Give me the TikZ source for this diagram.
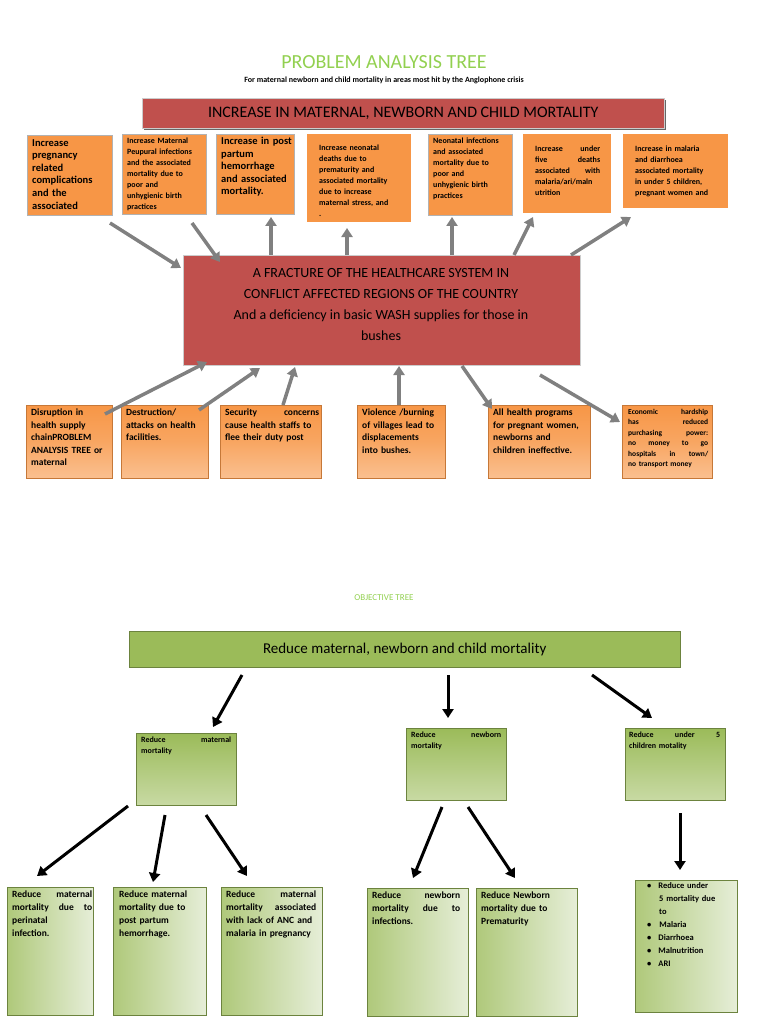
\documentclass[tikz,border=0pt]{standalone}
\usepackage{fontspec}
\setmainfont{Carlito}
\usetikzlibrary{arrows.meta}
\definecolor{org}{HTML}{F79646}
\definecolor{orgl}{HTML}{FAC090}
\definecolor{redb}{HTML}{C0504D}
\definecolor{grn}{HTML}{9BBB59}
\definecolor{grnl}{HTML}{E6EED8}
\definecolor{ttl}{HTML}{92D050}
\definecolor{arr}{HTML}{808080}
\begin{document}
\begin{tikzpicture}[x=1pt,y=-1pt,
  ob/.style={draw=white!70!black,fill=org,inner sep=0pt},
  obg/.style={draw=org!80!black,top color=org,bottom color=orgl,middle color=org!85!white,inner sep=0pt},
  gb/.style={draw=grn!70!black,top color=grn,bottom color=grn!55!white,inner sep=0pt},
  gl/.style={draw=grn!70!black,left color=grn!80!white,right color=grnl,inner sep=0pt},
  tx/.style={anchor=north west,align=left,font=\bfseries\fontsize{10.5}{12.6}\selectfont,inner sep=0pt},
  ts/.style={anchor=north west,align=left,font=\bfseries\fontsize{8}{11}\selectfont,inner sep=0pt},
  tg/.style={anchor=north west,align=left,font=\bfseries\fontsize{9.5}{13}\selectfont,inner sep=0pt},
  ga/.style={draw=arr,line width=3.5pt,-{Triangle[length=9pt,width=11pt]}},
  ba/.style={draw=black,line width=3pt,-{Triangle[length=9pt,width=11pt]}}]
\useasboundingbox (0,0) rectangle (768,1024);
% titles
\node (t1) at (384,62) {\color{ttl}\fontsize{20}{22}\selectfont PROBLEM ANALYSIS TREE};
\node (t2) at (384,80) {\bfseries\fontsize{8}{9}\selectfont For maternal newborn and child mortality in areas most hit by the Anglophone crisis};
\fill[black!60] (144,100) rectangle (666,130);
\node[draw=white!80!black,fill=redb,minimum width=522pt,minimum height=30pt,inner sep=0pt,anchor=north west,font=\fontsize{16}{18}\selectfont] (hd) at (142,98) {INCREASE IN MATERNAL, NEWBORN AND CHILD MORTALITY};
% top boxes
\node[ob,minimum width=85pt,minimum height=80pt,anchor=north west] (a1) at (27,135) {};
\node[tx,text width=78pt] at (32,139) {Increase\\pregnancy\\related\\complications\\and the\\associated};
\node[ob,minimum width=84pt,minimum height=80pt,anchor=north west] (a2) at (122,134) {};
\node[ts,text width=80pt] at (127,138) {Increase Maternal\\Peupural infections\\and the associated\\mortality due to\\poor and\\unhygienic birth\\practices};
\node[ob,minimum width=78pt,minimum height=80pt,anchor=north west] (a3) at (216,134) {};
\node[tx,text width=76pt] at (221,137) {Increase in post\\partum\\hemorrhage\\and associated\\mortality.};
\node[ob,draw=none,minimum width=104pt,minimum height=88pt,anchor=north west] (a4) at (307,134) {};
\node[ts,text width=96pt] at (319,145) {Increase neonatal\\deaths due to\\prematurity and\\associated mortality\\due to increase\\maternal stress, and\\.};
\node[ob,minimum width=84pt,minimum height=81pt,anchor=north west] (a5) at (428,134) {};
\node[ts,text width=80pt] at (433,138) {Neonatal infections\\and associated\\mortality due to\\poor and\\unhygienic birth\\practices};
\node[ob,draw=none,minimum width=88pt,minimum height=79pt,anchor=north west] (a6) at (523,134) {};
\node[ts,text width=65pt] at (535,146) {Increase\hfill under\\five\hfill deaths\\associated\hfill with\\malaria/ari/maln\\utrition};
\node[ob,draw=none,minimum width=105pt,minimum height=74pt,anchor=north west] (a7) at (623,134) {};
\node[ts,text width=100pt] at (635,146) {Increase in malaria\\and diarrhoea\\associated mortality\\in under 5 children,\\pregnant women and};
% center
\node[fill=redb,draw=white!80!black,minimum width=397pt,minimum height=110pt,anchor=north west] (c) at (183,255) {};
\node[align=center,font=\fontsize{14}{21}\selectfont] at (381,305) {A FRACTURE OF THE HEALTHCARE SYSTEM IN\\CONFLICT AFFECTED REGIONS OF THE COUNTRY\\And a deficiency in basic WASH supplies for those in\\bushes};
% top arrows
\coordinate (p1) at (110,223); \coordinate (q1) at (181,268);
\coordinate (p2) at (192,223); \coordinate (q2) at (220,262);
\draw[ga] (p1) -- (q1);
\draw[ga] (p2) -- (q2);
\draw[ga] (271,255) -- (271,217);
\draw[ga] (347,255) -- (347,228);
\draw[ga] (452,255) -- (452,217);
\draw[ga] (514,255) -- (533,217);
\draw[ga] (571,255) -- (631,217);
% bottom boxes
\node[obg,minimum width=86pt,minimum height=73pt,anchor=north west] (b1) at (26,405) {};
\node[tx,font=\bfseries\fontsize{9.5}{12.5}\selectfont,text width=84pt] at (31,409) {Disruption in\\health supply\\chainPROBLEM\\ANALYSIS TREE or\\maternal};
\node[obg,minimum width=87pt,minimum height=73pt,anchor=north west] (b2) at (121,405) {};
\node[tx,font=\bfseries\fontsize{9.5}{12.5}\selectfont,text width=84pt] at (126,409) {Destruction/\\attacks on health\\facilities.};
\node[obg,minimum width=101pt,minimum height=73pt,anchor=north west] (b3) at (220,405) {};
\node[tx,font=\bfseries\fontsize{9.5}{12.5}\selectfont,text width=94pt] at (225,409) {Security\hfill concerns\\cause health staffs to\\flee their duty post};
\node[obg,minimum width=88pt,minimum height=73pt,anchor=north west] (b4) at (357,405) {};
\node[tx,font=\bfseries\fontsize{9.5}{12.5}\selectfont,text width=84pt] at (362,409) {Violence /burning\\of villages  lead to\\displacements\\into bushes.};
\node[obg,minimum width=102pt,minimum height=73pt,anchor=north west] (b5) at (488,405) {};
\node[tx,font=\bfseries\fontsize{9.5}{12.5}\selectfont,text width=96pt] at (493,409) {All health programs\\for pregnant women,\\newborns and\\children ineffective.};
\node[obg,minimum width=90pt,minimum height=73pt,anchor=north west] (b6) at (622,405) {};
\node[ts,font=\bfseries\fontsize{7.5}{10.5}\selectfont,text width=80pt] at (628,409) {Economic\hfill hardship\\has\hfill reduced\\purchasing\hfill power:\\no\hfill money\hfill to\hfill go\\hospitals\hfill in\hfill town/\\no transport money};
\draw[ga] (105,414) -- (207,362);
\draw[ga] (199,410) -- (260,368);
\draw[ga] (283,405) -- (295,367);
\draw[ga] (399,405) -- (399,366);
\draw[ga] (462,366) -- (492,409);
\draw[ga] (540,375) -- (620,422);
% objective tree
\node (t3) at (384,598) {\color{ttl}\fontsize{9}{10}\selectfont OBJECTIVE TREE};
\node[draw=grn!70!black,fill=grn,minimum width=551pt,minimum height=36pt,anchor=north west,font=\fontsize{15}{17}\selectfont] (g) at (129,631) {Reduce maternal, newborn and child mortality};
\node[gb,minimum width=100pt,minimum height=72pt,anchor=north west] (m1) at (136,733) {};
\node[ts,text width=90pt] at (141,737) {Reduce\hfill maternal\\mortality};
\node[gb,minimum width=100pt,minimum height=72pt,anchor=north west] (m2) at (406,728) {};
\node[ts,text width=90pt] at (411,732) {Reduce\hfill newborn\\mortality};
\node[gb,minimum width=100pt,minimum height=72pt,anchor=north west] (m3) at (625,728) {};
\node[ts,text width=91pt] at (629,732) {Reduce\hfill under\hfill 5\\children motality};
\draw[ba] (242,675) -- (213,727);
\draw[ba] (448,675) -- (448,718);
\draw[ba] (592,675) -- (652,718);
\draw[ba] (128,806) -- (37,876);
\draw[ba] (165,815) -- (153,882);
\draw[ba] (206,815) -- (247,876);
\draw[ba] (442,807) -- (413,878);
\draw[ba] (468,807) -- (515,878);
\draw[ba] (680,813) -- (680,870);
\node[gl,minimum width=86pt,minimum height=128pt,anchor=north west] (n1) at (7,887) {};
\node[tg,text width=80pt] at (12,891) {Reduce\hfill maternal\\mortality\hfill due\hfill to\\perinatal\\infection.};
\node[gl,minimum width=93pt,minimum height=128pt,anchor=north west] (n2) at (113,887) {};
\node[tg,text width=84pt] at (119,891) {Reduce maternal\\mortality due to\\post partum\\hemorrhage.};
\node[gl,minimum width=101pt,minimum height=128pt,anchor=north west] (n3) at (221,887) {};
\node[tg,text width=90pt] at (226,891) {Reduce\hfill maternal\\mortality\hfill associated\\with lack of ANC and\\malaria in pregnancy};
\node[gl,minimum width=101pt,minimum height=128pt,anchor=north west] (n4) at (367,888) {};
\node[tg,text width=88pt] at (372,892) {Reduce\hfill newborn\\mortality\hfill due\hfill to\\infections.};
\node[gl,minimum width=101pt,minimum height=128pt,anchor=north west] (n5) at (476,888) {};
\node[tg,text width=92pt] at (481,892) {Reduce Newborn\\mortality due to\\Prematurity};
\node[gl,minimum width=102pt,minimum height=132pt,anchor=north west] (n6) at (635,880) {};
\node[tg,font=\bfseries\fontsize{8.5}{13}\selectfont,text width=90pt] at (647,882) {\textbullet\hspace{7pt}Reduce under\\\hspace{12pt}5 mortality due\\\hspace{12pt}to\\\textbullet\hspace{8pt}Malaria\\\textbullet\hspace{7pt}Diarrhoea\\\textbullet\hspace{7pt}Malnutrition\\\textbullet\hspace{7pt}ARI};
\end{tikzpicture}
\end{document}
